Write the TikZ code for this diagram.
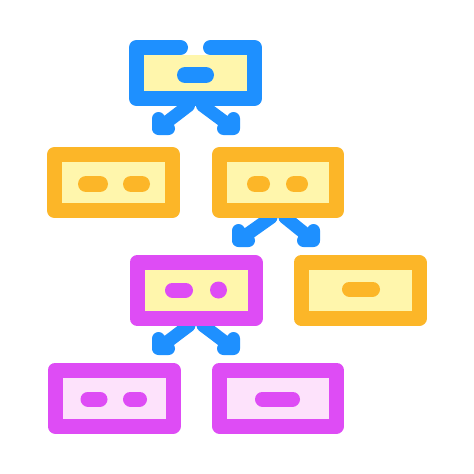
\documentclass[tikz,border=0pt]{standalone}
\usetikzlibrary{backgrounds}
\definecolor{cblue}{RGB}{30,144,255}
\definecolor{corange}{RGB}{252,182,40}
\definecolor{cmag}{RGB}{222,76,245}
\definecolor{cyel}{RGB}{255,246,172}
\definecolor{cpink}{RGB}{253,226,251}
\tikzset{
  box/.style={draw, line width=15pt, line join=round, outer sep=0pt, inner sep=0pt,
    minimum width=118pt, minimum height=56pt},
  pill/.style={line width=15pt, line cap=round},
  arr/.style={draw=cblue, line width=13pt, line cap=round, line join=round}
}
\begin{document}
\begin{tikzpicture}[x=1pt,y=-1pt]
\useasboundingbox (0,0) rectangle (474,474);
% top box (outline with gap)
\node[box, draw=none, fill=cyel, minimum width=103pt, minimum height=36pt] (top) at (195.5,73) {};
\draw[cblue, line width=15pt, line cap=round, line join=round]
  (180.5,47.5) -- (136.5,47.5) -- (136.5,98.5) -- (254.5,98.5) -- (254.5,47.5) -- (210.5,47.5);
\coordinate (topS) at (195.5,98.5);
\draw[pill, cblue, line width=16pt] (185,75) -- (206,75);
% row 2
\node[box, draw=corange, fill=cyel] (o1) at (113.5,182.5) {};
\draw[pill, corange, line width=16pt] (86,184) -- (100,184) (131,184) -- (142,184);
\node[box, draw=corange, fill=cyel, minimum width=117pt] (o2) at (278,182.5) {};
\draw[pill, corange, line width=16pt] (255,184) -- (262,184) (294,184) -- (300,184);
% row 3
\node[box, draw=cmag, fill=cyel] (m1) at (196,290.5) {};
\draw[pill, cmag] (172.5,290) -- (185.5,290);
\fill[cmag] (218.5,290) circle (8.5pt);
\node[box, draw=corange, fill=cyel] (o3) at (360,290.5) {};
\draw[pill, corange] (349.5,289) -- (372.5,289);
% row 4
\node[box, draw=cmag, fill=cpink] (m2) at (114,398) {};
\draw[pill, cmag] (88,399) -- (100,399) (130.5,399) -- (139.5,399);
\node[box, draw=cmag, fill=cpink, minimum width=117pt] (m3) at (278,398) {};
\draw[pill, cmag] (262.5,399) -- (292.5,399);
% arrows (behind the boxes)
\begin{scope}[on background layer]
\fill[white] (0,0) rectangle (474,474);
\coordinate (c1) at (158.5,128.5);
\coordinate (c2) at (233.5,128.5);
\coordinate (c3) at (238.5,240.5);
\coordinate (c4) at (313.5,240.5);
\coordinate (c5) at (158.5,348.5);
\coordinate (c6) at (233.5,348.5);
\draw[arr] ([xshift=-7pt,yshift=-7pt]topS) -- (c1) ++(0,-10) -- (c1) -- ++(10,0);
\draw[arr] ([xshift=7pt,yshift=-7pt]topS) -- (c2) ++(0,-10) -- (c2) -- ++(-10,0);
\draw[arr] ([xshift=-7pt,yshift=-7pt]o2.south) -- (c3) ++(0,-10) -- (c3) -- ++(10,0);
\draw[arr] ([xshift=7pt,yshift=-7pt]o2.south) -- (c4) ++(0,-10) -- (c4) -- ++(-10,0);
\draw[arr] ([xshift=-7pt,yshift=-7pt]m1.south) -- (c5) ++(0,-10) -- (c5) -- ++(10,0);
\draw[arr] ([xshift=7pt,yshift=-7pt]m1.south) -- (c6) ++(0,-10) -- (c6) -- ++(-10,0);
\end{scope}
\end{tikzpicture}
\end{document}
